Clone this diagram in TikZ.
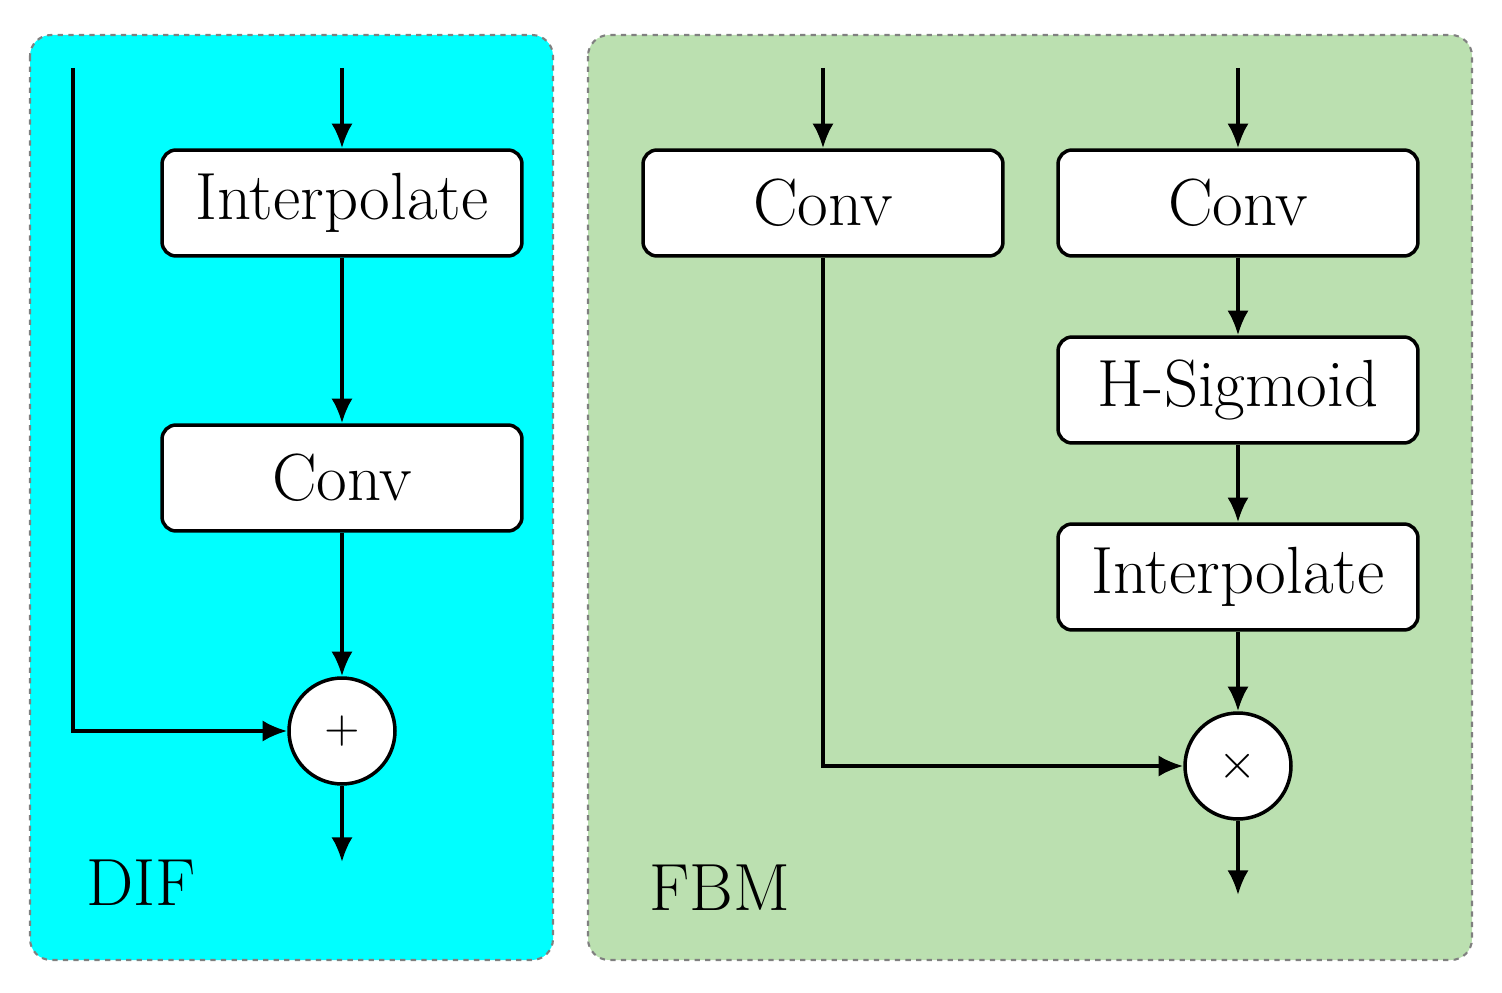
\documentclass[tikz,border=0pt]{standalone}
\usetikzlibrary{arrows.meta}
\definecolor{cy}{HTML}{00FFFF}
\definecolor{gr}{HTML}{BBE0B0}
\begin{document}
\begin{tikzpicture}[x=0.02cm,y=-0.02cm,
  panel/.style={draw=gray,dashed,line width=1.2pt,rounded corners=12pt},
  box/.style={draw,fill=white,line width=2pt,rounded corners=8pt,minimum width=7.2cm,minimum height=2.12cm,inner sep=0pt,font=\fontsize{38}{44}\selectfont},
  op/.style={draw,fill=white,circle,line width=2pt,minimum size=2.12cm,inner sep=0pt},
  ar/.style={line width=2pt,-{Latex[length=14pt,width=12pt]}},
  lab/.style={font=\fontsize{38}{44}\selectfont,anchor=west}]
\useasboundingbox (0,0) rectangle (1502,993);
\draw[panel,fill=cy] (30,35) rectangle (553,960);
\draw[panel,fill=gr] (588,35) rectangle (1472,960);
% DIF
\node[box] (i1) at (342,203) {Interpolate};
\node[box] (c1) at (342,478) {Conv};
\node[op] (p) at (342,731) {\scalebox{2.6}{$+$}};
\coordinate (t1) at (342,68);
\coordinate (s1) at (73,68);
\coordinate (o1) at (342,862);
\draw[ar] (t1) -- (i1);
\draw[ar] (i1) -- (c1);
\draw[ar] (c1) -- (p);
\draw[ar] (s1) |- (p);
\draw[ar] (p) -- (o1);
\node[lab] (dif) at (80,883) {DIF};
% FBM
\node[box] (c2) at (823,203) {Conv};
\node[box] (c3) at (1238,203) {Conv};
\node[box] (h) at (1238,390) {H-Sigmoid};
\node[box] (i2) at (1238,577) {Interpolate};
\node[op] (x) at (1238,766) {\scalebox{2.8}{$\times$}};
\coordinate (t2) at (823,68);
\coordinate (t3) at (1238,68);
\coordinate (o2) at (1238,895);
\draw[ar] (t2) -- (c2);
\draw[ar] (t3) -- (c3);
\draw[ar] (c3) -- (h);
\draw[ar] (h) -- (i2);
\draw[ar] (i2) -- (x);
\draw[ar] (c2) |- (x);
\draw[ar] (x) -- (o2);
\node[lab] (fbm) at (643,888) {FBM};
\end{tikzpicture}
\end{document}
